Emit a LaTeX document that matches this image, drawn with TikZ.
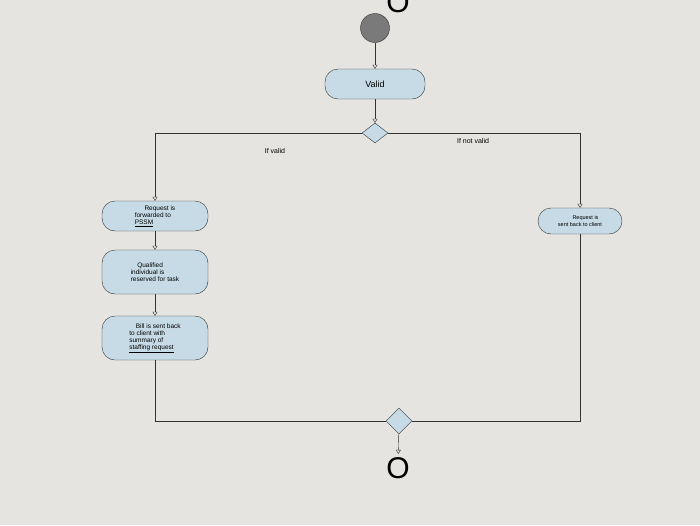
\documentclass[tikz,border=0pt]{standalone}
\usepackage{fontspec}
\setmainfont{Liberation Sans}
\usetikzlibrary{shapes.geometric,arrows.meta}
\definecolor{nodefill}{HTML}{C6DBE6}
\definecolor{bg}{HTML}{E6E4E1}
\begin{document}
\begin{tikzpicture}[x=1pt,y=-1pt,
  act/.style={draw=black!80,fill=nodefill,rounded corners=13pt,minimum width=106pt,align=left,font=\fontsize{6.5}{7}\selectfont,inner sep=3pt},
  dec/.style={draw=black!80,fill=nodefill,diamond,minimum width=26pt,minimum height=22pt,inner sep=0pt},
  flow/.style={draw=black!80,-{Triangle[open,length=4pt,width=5pt]}},
  lbl/.style={font=\fontsize{7}{8}\selectfont}]
\fill[bg] (0,0) rectangle (700,525);
\useasboundingbox (0,0) rectangle (700,525);
\node[font=\fontsize{30}{30}\selectfont] (topo) at (398,2) {O};
\node[circle,draw=black!80,fill=gray!70!black!80,minimum size=29pt] (start) at (375,28) {};
\node[act,minimum width=100pt,minimum height=30pt,align=center,font=\fontsize{9}{10}\selectfont] (valid) at (375,84) {Valid};
\node[dec,minimum height=20pt] (d1) at (375,133) {};
\node[act,minimum height=30pt] (n1) at (155,216) {\hspace*{1.5em}Request is\\forwarded to\\\underline{PSSM}};
\node[act,minimum height=44pt] (n2) at (155,272) {\hspace*{1em}Qualified\\individual is\\reserved for task};
\node[act,minimum height=44pt] (n3) at (155,338) {\hspace*{1em}Bill is sent back\\to client with\\summary of\\\underline{staffing request}};
\node[act,minimum width=84pt,minimum height=26pt,align=center,font=\fontsize{5.5}{6.5}\selectfont] (nr) at (580,221) {\hspace*{2em}Request is\\sent back to client};
\node[dec,minimum height=26pt] (d2) at (399,421) {};
\node[font=\fontsize{30}{30}\selectfont] (endo) at (398,468) {O};
\draw[flow] (start) -- (valid);
\draw[flow] (valid) -- (d1);
\draw[flow] (d1.west) -| (n1.north);
\draw[flow] (d1.east) -| (nr.north);
\draw[flow] (n1) -- (n2);
\draw[flow] (n2) -- (n3);
\draw[draw=black!80] (n3.south) |- (d2.west);
\draw[draw=black!80] (nr.south) |- (d2.east);
\draw[flow] (d2) -- (endo);
\node[lbl] (lv) at (275,151) {If valid};
\node[lbl] (lnv) at (473,141) {If not valid};
\end{tikzpicture}
\end{document}
